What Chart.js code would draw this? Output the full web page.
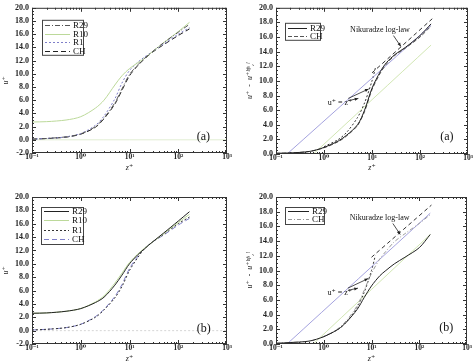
<!DOCTYPE html>
<html>
<head>
<meta charset="utf-8">
<script src="https://cdn.jsdelivr.net/npm/chart.js@4.4.1/dist/chart.umd.min.js"></script>
<style>
  body { margin: 0; background: #fff; }
  #wrap { position: relative; width: 474px; height: 363px; }
  .panel { position: absolute; width: 237px; height: 181px; }
</style>
</head>
<body>
<div id="wrap">
  <div class="panel" style="left:0;top:0"><canvas id="tl" width="237" height="181"></canvas></div>
  <div class="panel" style="left:237px;top:0"><canvas id="tr" width="237" height="181"></canvas></div>
  <div class="panel" style="left:0;top:182px"><canvas id="bl" width="237" height="181"></canvas></div>
  <div class="panel" style="left:237px;top:182px"><canvas id="br" width="237" height="181"></canvas></div>
</div>
<script>
// z+ sample points shared by all profiles
const zPlus = [0.1, 0.2, 0.5, 1, 2, 3, 5, 7, 10, 15, 20, 30, 50, 100, 170];

// (a) left: u+
const r29A = [0.1, 0.2, 0.45, 0.9, 2.0, 3.3, 5.6, 7.7, 9.9, 11.4, 12.3, 13.4, 14.7, 16.3, 17.5];
const r10A = [2.7, 2.75, 3.0, 3.5, 4.8, 6.0, 8.3, 9.7, 10.8, 11.7, 12.3, 13.4, 14.7, 16.4, 17.8];
const r1A  = [0.1, 0.2, 0.45, 0.95, 2.2, 3.6, 6.2, 8.6, 10.5, 11.8, 12.5, 13.4, 14.5, 16.0, 17.0];
const chA  = [0.1, 0.2, 0.4, 0.85, 1.9, 3.2, 5.4, 7.5, 9.7, 11.3, 12.2, 13.3, 14.4, 15.8, 16.8];

// (a) right: u+ - u+wall
const r29AW = [0.1, 0.15, 0.35, 0.9, 1.8, 2.6, 4.0, 6.0, 9.0, 11.3, 12.5, 13.6, 14.6, 16.2, 17.8];
const chAW  = [0.1, 0.15, 0.35, 0.85, 1.7, 2.5, 3.9, 5.8, 8.8, 11.1, 12.3, 13.5, 14.5, 16.0, 17.5];

// (b) left: u+
const r29B = [2.6, 2.65, 2.9, 3.3, 4.2, 5.0, 6.8, 8.3, 10.0, 11.4, 12.2, 13.3, 14.6, 16.4, 17.8];
const r10B = [2.6, 2.65, 2.9, 3.3, 4.3, 5.2, 7.1, 8.6, 10.2, 11.5, 12.3, 13.3, 14.5, 16.2, 17.4];
const r1B  = [0.1, 0.2, 0.45, 0.95, 2.0, 3.1, 4.9, 6.6, 9.0, 11.0, 12.2, 13.3, 14.4, 16.0, 17.0];
const chB  = [0.1, 0.2, 0.45, 0.95, 2.1, 3.2, 5.1, 6.9, 9.3, 11.2, 12.3, 13.3, 14.3, 15.8, 16.8];

// (b) right: u+ - u+wall
const r29BW = [0.1, 0.2, 0.4, 1.0, 2.0, 3.0, 4.7, 6.3, 7.9, 9.3, 10.0, 10.9, 11.8, 13.1, 14.9];
const chBW  = [0.1, 0.2, 0.4, 1.0, 2.1, 3.2, 5.2, 7.3, 9.6, 11.6, 12.6, 13.9, 15.0, 16.4, 17.6];

// reference lines (right panels)
const logLawZ = [0.17, 170];
const logLawA = [0, 17.6];
const logLawB = [0, 17.8];
const roughZ  = [0.6, 170];
const roughA  = [0, 14.9];
const roughB  = [0, 14.9];
const nikZ    = [10, 180];
const nikA    = [11.1, 18.5];
const nikB    = [11.8, 18.9];
const viscZ   = [1, 2, 3, 5, 7, 10, 12];
const viscU   = [1, 2, 3, 5, 7, 10, 12];
const zeroZ   = [0.1, 1000];
const zeroU   = [0, 0];

const xTicks = [0.1, 1, 10, 100, 1000];
const xTickLabels = ['10\u207B\u00B9', '10\u2070', '10\u00B9', '10\u00B2', '10\u00B3'];

const FONT = "'Liberation Serif', 'DejaVu Serif', serif";

function pts(xs, ys) { return xs.map((x, i) => ({ x: x, y: ys[i] })); }

function line(label, xs, ys, color, dash, width) {
  return { label: label, data: pts(xs, ys), borderColor: color, borderDash: dash || [],
           borderWidth: width || 1, pointRadius: 0, showLine: true, fill: false, tension: 0.3 };
}

const framePlugin = {
  id: 'frame',
  afterDraw(chart, args, o) {
    const { ctx, chartArea: a, scales: { x, y } } = chart;
    ctx.save();
    ctx.strokeStyle = '#333';
    ctx.lineWidth = 1;
    ctx.strokeRect(a.left + 0.5, a.top + 0.5, a.width - 1, a.height - 1);
    ctx.beginPath();
    for (let d = -1; d < 3; d++) {
      for (let m = 1; m < 10; m++) {
        const px = Math.round(x.getPixelForValue(m * Math.pow(10, d))) + 0.5;
        const len = m === 1 ? 4 : 2;
        ctx.moveTo(px, a.bottom); ctx.lineTo(px, a.bottom - len);
        ctx.moveTo(px, a.top); ctx.lineTo(px, a.top + len);
      }
    }
    for (let v = y.min; v <= y.max + 1e-9; v += 0.5) {
      const py = Math.round(y.getPixelForValue(v)) + 0.5;
      const len = Math.abs(v % 2) < 1e-9 ? 4 : 2;
      ctx.moveTo(a.left, py); ctx.lineTo(a.left + len, py);
      ctx.moveTo(a.right, py); ctx.lineTo(a.right - len, py);
    }
    ctx.stroke();

    // legend box
    const L = o.legend;
    const lx = a.left + L.x, ly = a.top + L.y;
    ctx.strokeStyle = '#444';
    ctx.strokeRect(lx + 0.5, ly + 0.5, L.w, L.h);
    ctx.font = '9px ' + FONT;
    ctx.textBaseline = 'middle';
    L.items.forEach((di, i) => {
      const ds = chart.data.datasets[di];
      const yy = Math.round(ly + L.first + i * L.step) + 0.5;
      ctx.strokeStyle = ds.borderColor;
      ctx.lineWidth = ds.borderWidth;
      ctx.setLineDash(ds.borderDash || []);
      ctx.beginPath(); ctx.moveTo(lx + 3, yy); ctx.lineTo(lx + L.lineW, yy); ctx.stroke();
      ctx.setLineDash([]);
      ctx.fillStyle = '#111';
      ctx.fillText(ds.label, lx + L.lineW + 3, yy);
    });

    // text notes and arrows in data coordinates
    ctx.fillStyle = '#111';
    (o.notes || []).forEach(n => {
      ctx.font = (n.size || 9) + 'px ' + FONT;
      ctx.textAlign = 'left';
      ctx.fillText(n.text, x.getPixelForValue(n.x), y.getPixelForValue(n.y));
    });
    ctx.strokeStyle = '#222';
    ctx.lineWidth = 0.8;
    (o.arrows || []).forEach(ar => {
      const x0 = x.getPixelForValue(ar[0]), y0 = y.getPixelForValue(ar[1]);
      const x1 = x.getPixelForValue(ar[2]), y1 = y.getPixelForValue(ar[3]);
      ctx.beginPath(); ctx.moveTo(x0, y0); ctx.lineTo(x1, y1); ctx.stroke();
      const ang = Math.atan2(y1 - y0, x1 - x0);
      ctx.beginPath();
      ctx.moveTo(x1, y1);
      ctx.lineTo(x1 - 4 * Math.cos(ang - 0.4), y1 - 4 * Math.sin(ang - 0.4));
      ctx.lineTo(x1 - 4 * Math.cos(ang + 0.4), y1 - 4 * Math.sin(ang + 0.4));
      ctx.closePath(); ctx.fillStyle = '#222'; ctx.fill();
    });
    ctx.restore();
  }
};

function makeChart(id, datasets, p) {
  new Chart(document.getElementById(id), {
    type: 'scatter',
    data: { datasets: datasets },
    options: {
      responsive: false,
      animation: false,
      devicePixelRatio: 1,
      layout: { padding: { top: p.top, right: p.right, left: 0, bottom: 0 } },
      plugins: { legend: { display: false }, tooltip: { enabled: false },
                 frame: { legend: p.legend, notes: p.notes, arrows: p.arrows } },
      scales: {
        x: {
          type: 'logarithmic', min: 0.1, max: 1000,
          grid: { display: false, drawTicks: false }, border: { display: false },
          afterBuildTicks: s => { s.ticks = xTicks.map(v => ({ value: v })); },
          afterFit: s => { s.height = p.xH; },
          ticks: { autoSkip: false, maxRotation: 0, padding: 0, color: '#222',
                   font: { family: FONT, size: 7.5, weight: 'bold', lineHeight: 1 },
                   callback: (v, i) => xTickLabels[i] },
          title: { display: true, text: 'z\u207A', color: '#222',
                   padding: { top: 0, bottom: p.xtPad },
                   font: { family: FONT, size: 8, style: 'italic', lineHeight: 1 } }
        },
        y: {
          min: p.ymin, max: 20,
          grid: { display: false, drawTicks: false }, border: { display: false },
          afterFit: s => { s.width = p.yW; },
          ticks: { stepSize: 2, padding: 3, color: '#222',
                   font: { family: FONT, size: 8, weight: 'bold' },
                   callback: v => v.toFixed(1) },
          title: { display: true, text: p.ytitle, color: '#222',
                   padding: { top: p.ytPad, bottom: 0 },
                   font: { family: FONT, size: 8, style: 'italic' } }
        }
      }
    },
    plugins: [framePlugin]
  });
}

const cR29 = '#555555', cR10 = '#bcd99a', cR1 = '#7f7fc9', cCH = '#222222';
const cBlue = '#8d8ad6', cGreen = '#c5e0a0';
const wallTitle = 'u\u207A  -  u\u207A\u1D47\u1DA0\u02E2\u02CF\u02E1';

makeChart('tl', [
  line('R29', zPlus, r29A, cR29, [5, 2, 1, 2]),
  line('R10', zPlus, r10A, cR10, []),
  line('R1', zPlus, r1A, cR1, [2, 2]),
  line('CH', zPlus, chA, cCH, [5, 3]),
  line('', zeroZ, zeroU, '#d9e8c8', [], 0.8)
], { top: 5, right: 10, yW: 32, xH: 28, xtPad: 9, ytPad: 1, ymin: -2, ytitle: 'u\u207A',
     legend: { x: 10, y: 12, w: 41, h: 35, first: 5, step: 8.7, lineW: 28, items: [0, 1, 2, 3] },
     notes: [{ x: 240, y: 0.4, text: '(a)', size: 12 }] });

makeChart('tr', [
  line('R29', zPlus, r29AW, '#222', []),
  line('CH', zPlus, chAW, '#555', [4, 2]),
  line('', logLawZ, logLawA, cBlue, [], 0.8),
  line('', roughZ, roughA, cGreen, [], 0.8),
  line('', nikZ, nikA, '#333', [4, 3]),
  line('', viscZ, viscU, '#333', [2, 2])
], { top: 5, right: 6, yW: 39, xH: 27, xtPad: 9, ytPad: 8, ymin: 0, ytitle: wallTitle,
     legend: { x: 9, y: 15, w: 35, h: 17, first: 5, step: 8, lineW: 22, items: [0, 1] },
     notes: [{ x: 3.5, y: 17.0, text: 'Nikuradze log-law', size: 8 },
             { x: 1.2, y: 7.0, text: 'u\u207A = z\u207A', size: 8 },
             { x: 263, y: 2.3, text: '(a)', size: 12 }],
     arrows: [[28, 16.2, 40, 14.7], [3.2, 7.6, 8.5, 8.9], [3.2, 7.3, 5.2, 7.6]] });

makeChart('bl', [
  line('R29', zPlus, r29B, '#222', []),
  line('R10', zPlus, r10B, cR10, []),
  line('R1', zPlus, r1B, '#333', [2, 2]),
  line('CH', zPlus, chB, cR1, [5, 3]),
  line('', zeroZ, zeroU, '#cccccc', [2, 2], 0.8)
], { top: 15, right: 10, yW: 32, xH: 19, xtPad: 0, ytPad: 1, ymin: -2, ytitle: 'u\u207A',
     legend: { x: 9, y: 10, w: 42, h: 37, first: 4, step: 9.3, lineW: 28, items: [0, 1, 2, 3] },
     notes: [{ x: 240, y: 0.3, text: '(b)', size: 12 }] });

makeChart('br', [
  line('R29', zPlus, r29BW, '#222', []),
  line('CH', zPlus, chBW, '#999', [4, 2, 1, 2]),
  line('', logLawZ, logLawB, cBlue, [], 0.8),
  line('', roughZ, roughB, cGreen, [], 0.8),
  line('', nikZ, nikB, '#333', [4, 3]),
  line('', viscZ, viscU, '#333', [2, 2])
], { top: 15, right: 7, yW: 39, xH: 19, xtPad: 0, ytPad: 8, ymin: 0, ytitle: wallTitle,
     legend: { x: 9, y: 10, w: 39, h: 17, first: 4, step: 8, lineW: 24, items: [0, 1] },
     notes: [{ x: 3.5, y: 17.2, text: 'Nikuradze log-law', size: 8 },
             { x: 1.2, y: 7.0, text: 'u\u207A = z\u207A', size: 8 },
             { x: 263, y: 2.2, text: '(b)', size: 12 }],
     arrows: [[28, 16.4, 40, 14.9], [3.2, 7.6, 8.5, 8.9], [3.2, 7.3, 5.2, 7.6]] });
</script>
</body>
</html>
